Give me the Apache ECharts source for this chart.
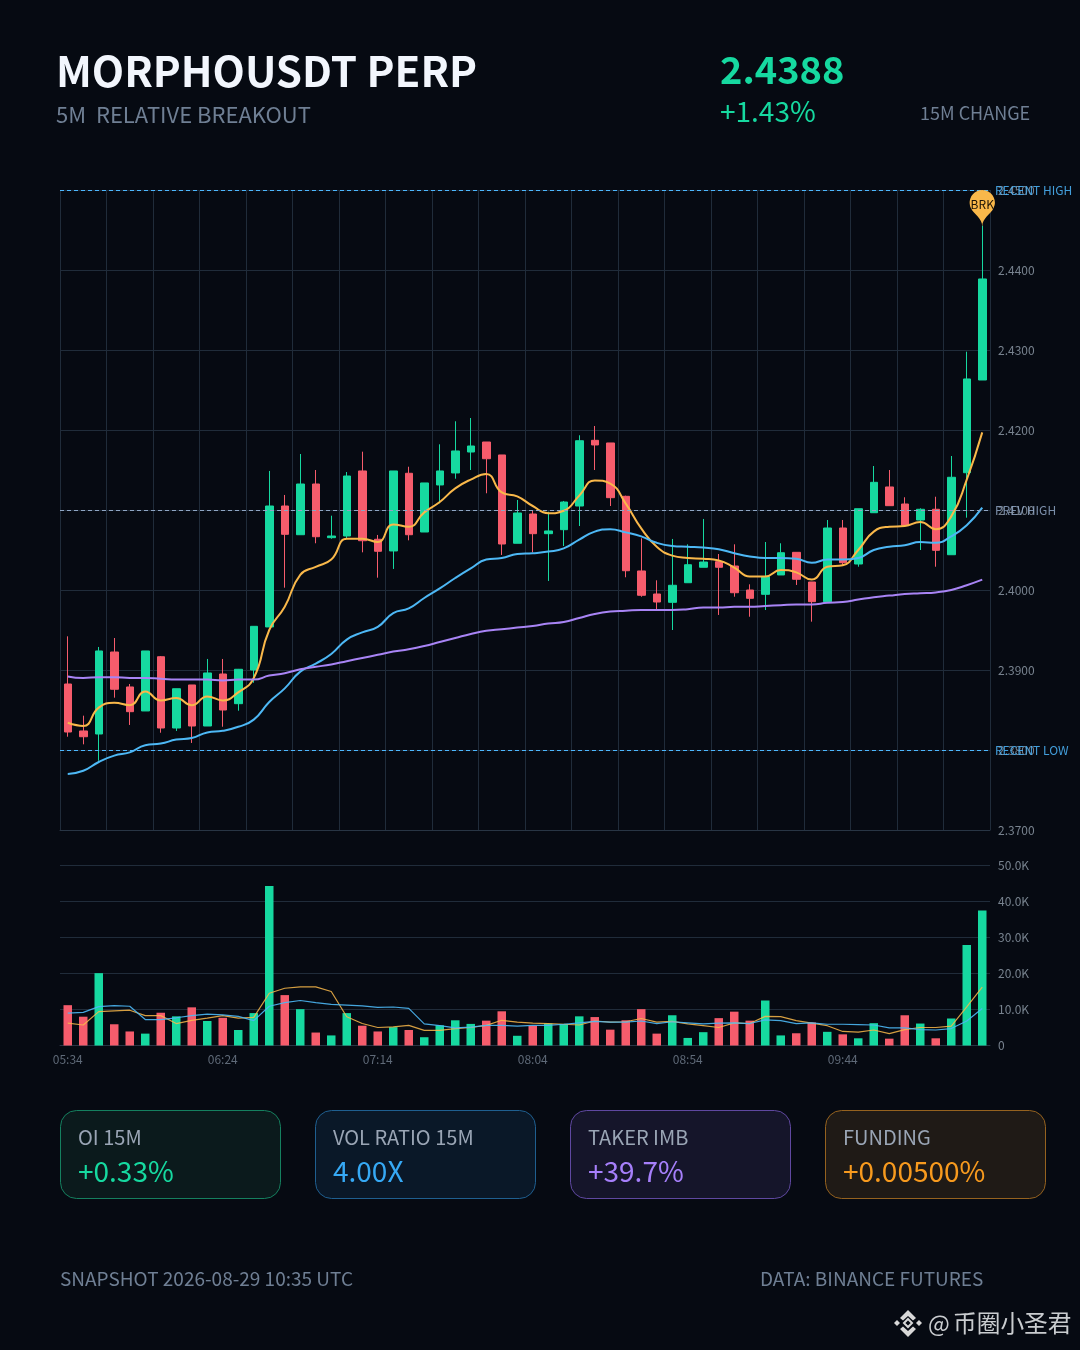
<!DOCTYPE html>
<html><head><meta charset="utf-8">
<style>html,body{margin:0;padding:0;background:#060a12}#c{width:1080px;height:1350px}</style>
<script src="https://cdn.jsdelivr.net/npm/echarts@6/dist/echarts.min.js"></script>
</head><body><div id="c"></div>
<script>
const categories=["05:34","05:39","05:44","05:49","05:54","05:59","06:04","06:09","06:14","06:19","06:24","06:29","06:34","06:39","06:44","06:49","06:54","06:59","07:04","07:09","07:14","07:19","07:24","07:29","07:34","07:39","07:44","07:49","07:54","07:59","08:04","08:09","08:14","08:19","08:24","08:29","08:34","08:39","08:44","08:49","08:54","08:59","09:04","09:09","09:14","09:19","09:24","09:29","09:34","09:39","09:44","09:49","09:54","09:59","10:04","10:09","10:14","10:19","10:24","10:29"];
const opens=[2.38825,2.38238,2.382,2.39225,2.38788,2.38488,2.39166,2.38275,2.38813,2.383,2.3895,2.38579,2.39,2.39538,2.4105,2.40691,2.41325,2.40654,2.40675,2.41488,2.40634,2.40488,2.41459,2.40725,2.41313,2.41463,2.41725,2.4185,2.41688,2.40584,2.4095,2.40704,2.40754,2.4105,2.41871,2.41838,2.41171,2.40238,2.3995,2.39846,2.40091,2.40284,2.40354,2.403,2.4,2.39946,2.40188,2.40471,2.401,2.39854,2.40775,2.40325,2.40966,2.41288,2.41075,2.40875,2.41009,2.40441,2.41466,2.42625];
const closes=[2.38225,2.38166,2.39238,2.38759,2.38479,2.39238,2.38275,2.38766,2.383,2.38963,2.385,2.39009,2.39546,2.4105,2.40696,2.41325,2.40666,2.40675,2.41425,2.40616,2.40484,2.41488,2.40691,2.41338,2.41488,2.41738,2.418,2.41641,2.40575,2.40963,2.40704,2.40738,2.411,2.41866,2.41813,2.41154,2.40241,2.39934,2.3985,2.40059,2.40316,2.4035,2.40284,2.39966,2.39896,2.40166,2.40466,2.40134,2.39854,2.40775,2.40341,2.41016,2.41346,2.41054,2.40809,2.41009,2.40496,2.41409,2.42638,2.43888];
const lows=[2.38166,2.38071,2.37866,2.38654,2.38313,2.38488,2.38216,2.38238,2.38088,2.383,2.38291,2.38491,2.38841,2.39538,2.40029,2.40691,2.40584,2.40641,2.4065,2.40471,2.40154,2.40263,2.40621,2.40725,2.41084,2.41391,2.415,2.41209,2.40438,2.40584,2.40471,2.40113,2.4055,2.408,2.415,2.4105,2.40159,2.39916,2.3975,2.395,2.40091,2.40284,2.39688,2.39916,2.39666,2.3975,2.40188,2.40063,2.39604,2.39854,2.40313,2.40291,2.40966,2.41054,2.40809,2.405,2.40291,2.40441,2.40904,2.42625];
const highs=[2.39421,2.38429,2.39288,2.394,2.38825,2.39238,2.39175,2.38766,2.38813,2.39138,2.39138,2.39013,2.39546,2.41488,2.41188,2.417,2.415,2.40929,2.41475,2.41729,2.40688,2.41488,2.41541,2.41338,2.41821,2.42109,2.4215,2.4185,2.41688,2.41125,2.41,2.40979,2.41113,2.41934,2.4205,2.41838,2.41179,2.40646,2.40121,2.40638,2.40571,2.40888,2.4045,2.40571,2.40071,2.406,2.40584,2.40471,2.401,2.40875,2.40875,2.41016,2.4155,2.415,2.41159,2.41021,2.41166,2.41675,2.42979,2.44554];
const maFast=[2.3834,2.3830,2.3853,2.3859,2.3856,2.3873,2.3862,2.3865,2.3856,2.3867,2.3862,2.3872,2.3890,2.3950,2.3979,2.4019,2.4029,2.4038,2.4064,2.4064,2.4060,2.4082,2.4079,2.4097,2.4110,2.4127,2.4138,2.4145,2.4122,2.4117,2.4105,2.4096,2.4099,2.4118,2.4137,2.4133,2.4108,2.4077,2.4054,2.4043,2.4040,2.4039,2.4037,2.4028,2.4017,2.4017,2.4025,2.4022,2.4013,2.4029,2.4031,2.4050,2.4073,2.4079,2.4080,2.4085,2.4076,2.4092,2.4138,2.4197];
const maMid=[2.3770,2.3774,2.3785,2.3793,2.3797,2.3806,2.3808,2.3813,2.3815,2.3822,2.3824,2.3829,2.3838,2.3860,2.3877,2.3898,2.3908,2.3920,2.3938,2.3947,2.3954,2.3971,2.3977,2.3990,2.4002,2.4015,2.4027,2.4038,2.4040,2.4045,2.4046,2.4048,2.4052,2.4063,2.4073,2.4076,2.4072,2.4067,2.4059,2.4055,2.4054,2.4053,2.4051,2.4046,2.4042,2.4040,2.4040,2.4039,2.4034,2.4038,2.4038,2.4040,2.4050,2.4054,2.4056,2.4060,2.4059,2.4067,2.4081,2.4103];
const maSlow=[2.3892,2.3890,2.3891,2.3891,2.3890,2.3890,2.3889,2.3888,2.3888,2.3888,2.3887,2.3888,2.3888,2.3893,2.3896,2.3901,2.3904,2.3907,2.3911,2.3915,2.3919,2.3923,2.3926,2.3930,2.3935,2.3940,2.3945,2.3949,2.3951,2.3953,2.3955,2.3958,2.3960,2.3965,2.3970,2.3973,2.3974,2.3975,2.3975,2.3975,2.3976,2.3978,2.3978,2.3979,2.3979,2.3980,2.3981,2.3982,2.3982,2.3984,2.3985,2.3988,2.3991,2.3993,2.3995,2.3996,2.3997,2.4000,2.4006,2.4013];
const volumes=[11.2,8.0,20.1,5.9,3.9,3.3,9.1,8.1,10.6,6.8,7.7,4.3,9.0,44.3,14.0,10.1,3.6,2.8,9.0,5.5,3.9,5.1,4.3,2.3,5.6,7.0,6.0,6.9,9.5,2.7,5.5,6.1,6.0,8.1,7.9,4.4,7.0,10.1,3.3,8.4,2.1,3.7,7.6,9.4,6.9,12.5,2.8,3.4,6.4,3.8,3.1,2.0,6.2,1.9,8.4,6.1,2.0,7.5,27.9,37.5];
const volFast=[6.2,5.7,9.4,9.6,9.8,8.3,8.3,6.1,7.0,7.6,8.3,7.6,7.8,14.5,15.9,16.3,16.3,15.0,8.0,6.1,5.0,5.2,5.6,4.2,4.2,4.7,5.0,5.6,7.0,6.5,6.2,6.1,5.9,5.7,6.8,6.5,6.6,7.5,6.5,6.7,6.0,5.5,5.0,6.3,6.1,8.1,8.0,6.9,6.2,5.5,3.9,3.7,4.3,3.3,4.4,5.0,5.0,5.4,10.7,16.2];
const volSlow=[9.0,9.2,10.8,11.1,10.9,7.2,7.2,7.7,8.3,8.7,8.5,8.1,6.9,10.9,11.9,12.5,11.9,11.4,11.2,11.0,10.6,10.7,10.3,6.0,5.5,4.9,5.1,5.6,5.6,5.4,5.6,5.6,5.9,6.3,6.7,6.5,6.5,6.8,6.1,6.6,6.3,6.0,6.2,6.3,6.1,7.1,6.9,6.1,6.3,5.9,5.9,5.8,5.7,4.9,4.9,4.4,4.3,4.7,6.8,10.3];
const levels=[{name:"RECENT HIGH",value:2.45,color:"#4db8ff"},{name:"PREV HIGH",value:2.41,color:"#8fa6c4"},{name:"RECENT LOW",value:2.38,color:"#4db8ff"}];
const cards=[
 {label:"OI 15M",value:"+0.33%",color:"#16d9a0",border:"#15805f",fill:"#0b1a1c",x:60},
 {label:"VOL RATIO 15M",value:"4.00X",color:"#36a9f5",border:"#1f5f90",fill:"#0a1828",x:315},
 {label:"TAKER IMB",value:"+39.7%",color:"#a67ffa",border:"#5f48a0",fill:"#15152a",x:570},
 {label:"FUNDING",value:"+0.00500%",color:"#f79a1e",border:"#95621f",fill:"#1f1a16",x:825}];

const UP="#16d9a0",DOWN="#f65c6c",BG="#060a12",GRID="#202c3a",FONT='"Noto Sans CJK SC","Noto Sans",sans-serif';
const text=(x,y,t,size,fill,weight,extra)=>({type:'text',silent:true,x,y,style:Object.assign({text:t,font:`${weight||400} ${size}px ${FONT}`,fill,textVerticalAlign:'middle'},extra||{})});
const graphics=[
 text(56,71,"MORPHOUSDT PERP",42,"#f2f6fd",700),
 text(56,115,"5M  RELATIVE BREAKOUT",22,"#6f7f94"),
 text(720,69.5,"2.4388",38,UP,700),
 text(720,111.5,"+1.43%",28,UP),
 text(920,113,"15M CHANGE",18,"#6f7f94"),
 text(60,1279,"SNAPSHOT 2026-08-29 10:35 UTC",19,"#6f7f94"),
 text(760,1279,"DATA: BINANCE FUTURES",19,"#6f7f94"),
 text(928,1323,"@",23,"#c9cccf"),
 text(953,1323,"币圈小圣君",23.7,"#c9cccf"),
 {type:'polygon',silent:true,shape:{points:[[894,1323],[897,1320],[900,1323],[897,1326]]},style:{fill:"#d8d8d8"}},
 {type:'polygon',silent:true,shape:{points:[[916,1323],[919,1320],[922,1323],[919,1326]]},style:{fill:"#d8d8d8"}},
 {type:'polygon',silent:true,shape:{points:[[908,1319],[912,1323],[908,1327],[904,1323]]},style:{fill:"none",stroke:"#d8d8d8",lineWidth:2}},
 {type:'polygon',silent:true,shape:{points:[[908,1310],[916,1318],[913,1320.5],[908,1316],[903,1320.5],[900,1318]]},style:{fill:"#d8d8d8"}},
 {type:'polygon',silent:true,shape:{points:[[908,1337],[916,1329],[913,1326.5],[908,1331],[903,1326.5],[900,1329]]},style:{fill:"#d8d8d8"}}
];
cards.forEach(c=>{
 graphics.push({type:'rect',silent:true,shape:{x:c.x+.5,y:1110.5,width:220,height:88,r:16},style:{fill:c.fill,stroke:c.border,lineWidth:1}});
 graphics.push(text(c.x+18,1137,c.label,20,"#9aa5b5"));
 graphics.push(text(c.x+18,1171,c.value,28,c.color));
});

const chart=echarts.init(document.getElementById('c'),null,{renderer:'canvas'});
const lineS=(name,data,color,w,smooth,xi,yi,op)=>({name,type:'line',data,xAxisIndex:xi,yAxisIndex:yi,symbol:'none',smooth,silent:true,lineStyle:{color,width:w,opacity:op||1},z:4});
chart.setOption({
 animation:false,backgroundColor:BG,graphic:graphics,
 grid:[{left:60,right:90,top:190,height:640},{left:60,right:90,top:865.5,height:180}],
 xAxis:[
  {type:'category',data:categories,gridIndex:0,boundaryGap:true,axisLabel:{show:false},axisTick:{show:false},axisLine:{lineStyle:{color:"#283544"}},splitLine:{show:true,interval:2,lineStyle:{color:GRID,width:1}}},
  {type:'category',data:categories,gridIndex:1,boundaryGap:true,axisTick:{show:false},axisLine:{lineStyle:{color:"#283544"}},splitLine:{show:false},axisLabel:{interval:9,color:"#5f6a78",fontSize:12,fontFamily:FONT,margin:8}}
 ],
 yAxis:[
  {type:'value',gridIndex:0,position:'right',min:2.37,max:2.45,interval:0.01,axisLine:{show:false},axisTick:{show:false},splitLine:{lineStyle:{color:GRID,width:1}},axisLabel:{color:"#78838f",fontSize:12,fontFamily:FONT,margin:8,formatter:v=>v.toFixed(4)}},
  {type:'value',gridIndex:1,position:'right',min:0,max:50,interval:10,axisLine:{show:false},axisTick:{show:false},splitLine:{lineStyle:{color:GRID,width:1}},axisLabel:{color:"#78838f",fontSize:12,fontFamily:FONT,margin:8,formatter:v=>v===0?"0":v.toFixed(1)+"K"}}
 ],
 series:[
  {name:'price',type:'candlestick',xAxisIndex:0,yAxisIndex:0,barWidth:8,silent:true,z:3,
   data:categories.map((_,i)=>[opens[i],closes[i],lows[i],highs[i]]),
   itemStyle:{color:UP,color0:DOWN,borderColor:UP,borderColor0:DOWN,borderWidth:1},
   markLine:{silent:true,symbol:'none',animation:false,z:5,
    data:levels.map(l=>({yAxis:l.value,lineStyle:{color:l.color,type:[4,3],width:1},
      label:{show:true,position:'end',formatter:l.name,color:l.color,opacity:.85,fontSize:12,fontFamily:FONT,distance:5}}))},
   markPoint:{silent:true,animation:false,z:6,data:[{coord:[categories.length-1,highs[highs.length-1]],symbol:'pin',symbolSize:42,symbolOffset:[0,1],
     itemStyle:{color:"#f9b84a"},label:{show:true,formatter:"BRK",color:"#1c1406",fontSize:12,fontFamily:FONT}}]}
  },
  lineS('EMA fast',maFast,"#f9b84a",2,true,0,0),
  lineS('EMA mid',maMid,"#4db8f5",2,true,0,0),
  lineS('EMA slow',maSlow,"#a884f5",2,true,0,0),
  {name:'volume',type:'bar',xAxisIndex:1,yAxisIndex:1,barWidth:8.5,silent:true,z:2,
   data:volumes.map((v,i)=>({value:v,itemStyle:{color:closes[i]>=opens[i]?UP:DOWN}}))},
  lineS('vol fast',volFast,"#f9b84a",1.2,false,1,1,.85),
  lineS('vol slow',volSlow,"#4db8f5",1.2,false,1,1,.9)
 ]
});
</script></body></html>
